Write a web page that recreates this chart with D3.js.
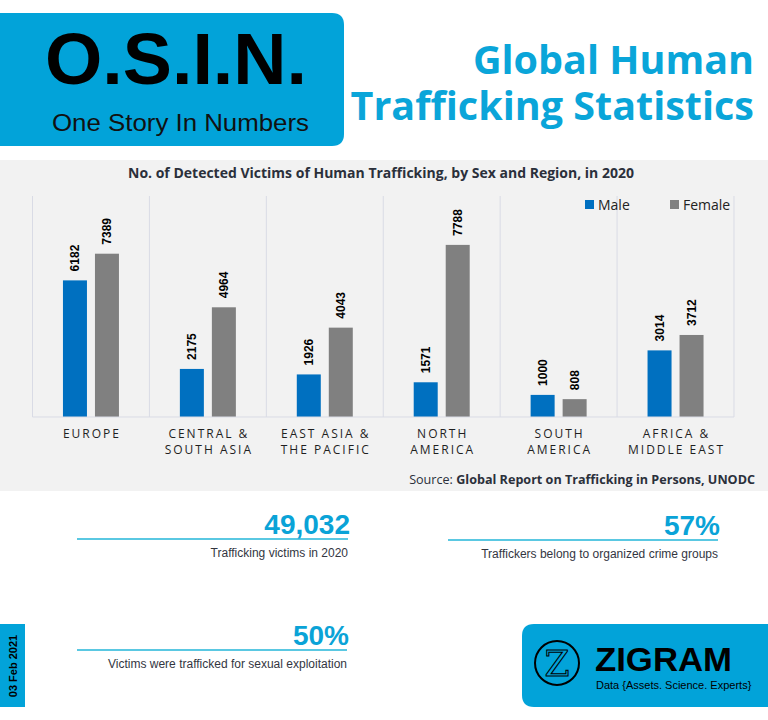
<!DOCTYPE html>
<html lang="en">
  <head>
    <meta charset="UTF-8" />
    <title>Global Human Trafficking Statistics</title>
  </head>
  <style>
    body {
      margin: 0;
      background: #fff;
    }
    svg text {
      font-family: 'Open Sans', 'Noto Sans', sans-serif;
    }
  </style>
  <body>
    <svg id="svg" width="768" height="720"></svg>

    <script src="https://d3js.org/d3.v7.min.js"></script>
    <script>
      // chart values
      const regions = ['EUROPE', 'CENTRAL & SOUTH ASIA', 'EAST ASIA & THE PACIFIC',
        'NORTH AMERICA', 'SOUTH AMERICA', 'AFRICA & MIDDLE EAST'];
      const regionLines = [['EUROPE'], ['CENTRAL &', 'SOUTH ASIA'], ['EAST ASIA &', 'THE PACIFIC'],
        ['NORTH', 'AMERICA'], ['SOUTH', 'AMERICA'], ['AFRICA &', 'MIDDLE EAST']];
      const series = ['Male', 'Female'];
      const male = [6182, 2175, 1926, 1571, 1000, 3014];
      const female = [7389, 4964, 4043, 7788, 808, 3712];
      const yMax = 10000;

      const statValues = ['49,032', '57%', '50%'];
      const statLabels = ['Trafficking victims in 2020',
        'Traffickers belong to organized crime groups',
        'Victims were trafficked for sexual exploitation'];

      const blue = '#02a3d9';
      const colors = { Male: '#0070c0', Female: '#808080' };

      const svg = d3.select('#svg');

      // ---------- header ----------
      svg.append('path')
        .attr('d', 'M0,13 H332 Q344,13 344,25 V134 Q344,146 332,146 H0 Z')
        .attr('fill', blue);
      svg.append('text')
        .attr('x', 45).attr('y', 84)
        .attr('textLength', 262).attr('lengthAdjust', 'spacingAndGlyphs')
        .style('font-family', "'Liberation Sans', Arial, sans-serif")
        .style('font-weight', 'bold').style('font-size', '72px')
        .attr('fill', '#000')
        .text('O.S.I.N.');
      svg.append('text')
        .attr('x', 52).attr('y', 131)
        .attr('textLength', 257).attr('lengthAdjust', 'spacingAndGlyphs')
        .style('font-family', "'Liberation Sans', Arial, sans-serif")
        .style('font-size', '24.5px').attr('fill', '#111')
        .text('One Story In Numbers');

      // two-line title in one text element
      const title = svg.append('text')
        .attr('text-anchor', 'end')
        .style('font-weight', 'bold').style('font-size', '39.5px')
        .attr('fill', '#0aa5d9');
      title.selectAll('tspan')
        .data(['Global Human', 'Trafficking Statistics'])
        .enter().append('tspan')
        .attr('x', 754).attr('y', (d, i) => 74 + i * 46)
        .text((d) => d);

      // ---------- chart panel ----------
      svg.append('rect')
        .attr('x', 0).attr('y', 160).attr('width', 768).attr('height', 331)
        .attr('fill', '#f2f2f2');
      svg.append('text')
        .attr('x', 381).attr('y', 178).attr('text-anchor', 'middle')
        .style('font-weight', 'bold').style('font-size', '14px')
        .attr('fill', '#2b303b')
        .text('No. of Detected Victims of Human Trafficking, by Sex and Region, in 2020');

      const x = d3.scaleBand().domain(regions).range([32.5, 734]);
      const xSub = d3.scaleBand().domain(series)
        .range([(x.bandwidth() - 56) / 2, (x.bandwidth() + 56) / 2])
        .paddingInner(0.25);
      const y = d3.scaleLinear().domain([0, yMax]).range([417, 196]);

      // vertical grid lines between categories
      const edges = regions.map((r) => x(r)).concat([x.range()[1]]);
      svg.selectAll('.grid')
        .data(edges)
        .enter().append('line')
        .attr('x1', (d) => d).attr('x2', (d) => d)
        .attr('y1', y(yMax)).attr('y2', y(0))
        .attr('stroke', '#d9dbe5').attr('stroke-width', 1);

      const rows = regions.map((r, i) => ({ region: r, Male: male[i], Female: female[i] }));

      const groups = svg.selectAll('.grp')
        .data(rows)
        .enter().append('g')
        .attr('transform', (d) => `translate(${x(d.region)},0)`);

      const cells = groups.selectAll('g')
        .data((d) => series.map((s) => ({ key: s, value: d[s] })))
        .enter().append('g');

      cells.append('rect')
        .attr('x', (d) => xSub(d.key))
        .attr('y', (d) => y(d.value))
        .attr('width', xSub.bandwidth())
        .attr('height', (d) => y(0) - y(d.value))
        .attr('fill', (d) => colors[d.key]);

      cells.append('text')
        .attr('transform', (d) =>
          `translate(${xSub(d.key) + xSub.bandwidth() / 2},${y(d.value) - 9}) rotate(-90)`)
        .attr('dominant-baseline', 'central')
        .style('font-family', "'Liberation Sans', Arial, sans-serif")
        .style('font-weight', 'bold').style('font-size', '12px')
        .attr('fill', '#000')
        .text((d) => d.value);

      // baseline
      svg.append('line')
        .attr('x1', x.range()[0]).attr('x2', x.range()[1])
        .attr('y1', y(0)).attr('y2', y(0))
        .attr('stroke', '#d9dbe5');

      // x axis labels
      const axis = svg.append('g')
        .attr('transform', `translate(0,${y(0)})`)
        .call(d3.axisBottom(x).tickSize(0).tickPadding(0));
      axis.select('.domain').remove();
      axis.selectAll('.tick text').each(function (d) {
        const t = d3.select(this).text(null)
          .attr('y', 21).attr('dy', null)
          .attr('fill', '#1f1f1f')
          .style('font-family', "'Open Sans', sans-serif")
          .style('font-size', '12px').style('letter-spacing', '2px');
        regionLines[regions.indexOf(d)].forEach((line, i) => {
          t.append('tspan').attr('x', 1).attr('dy', i === 0 ? 0 : 16).text(line);
        });
      });

      // legend
      const legend = svg.selectAll('.leg')
        .data(series)
        .enter().append('g')
        .attr('transform', (d, i) => `translate(${585 + i * 85},200)`);
      legend.append('rect')
        .attr('width', 9).attr('height', 9)
        .attr('fill', (d) => colors[d]);
      legend.append('text')
        .attr('x', 13).attr('y', 10)
        .style('font-size', '14px').attr('fill', '#222')
        .text((d) => d);

      // source
      const src = svg.append('text')
        .attr('x', 755).attr('y', 484).attr('text-anchor', 'end')
        .style('font-size', '12.6px').attr('fill', '#2b303b');
      src.append('tspan').text('Source: ');
      src.append('tspan').style('font-weight', 'bold')
        .text('Global Report on Trafficking in Persons, UNODC');

      // ---------- stats ----------
      const statPos = [
        { x1: 77, x2: 348, y: 539 },
        { x1: 448, x2: 718, y: 540 },
        { x1: 77, x2: 347, y: 650 },
      ];
      const stats = svg.selectAll('.stat')
        .data(statValues)
        .enter().append('g');
      stats.append('line')
        .attr('x1', (d, i) => statPos[i].x1).attr('x2', (d, i) => statPos[i].x2)
        .attr('y1', (d, i) => statPos[i].y).attr('y2', (d, i) => statPos[i].y)
        .attr('stroke', '#5ac8e2').attr('stroke-width', 2);
      stats.append('text')
        .attr('x', (d, i) => statPos[i].x2 + 2).attr('y', (d, i) => statPos[i].y - 5)
        .attr('text-anchor', 'end')
        .style('font-family', "'Liberation Sans', Arial, sans-serif")
        .style('font-weight', 'bold').style('font-size', '28px')
        .attr('fill', '#0aa3d7')
        .text((d) => d);
      stats.append('text')
        .attr('x', (d, i) => statPos[i].x2).attr('y', (d, i) => statPos[i].y + 18)
        .attr('text-anchor', 'end')
        .style('font-family', "'Liberation Sans', Arial, sans-serif")
        .style('font-size', '12px').attr('fill', '#33363f')
        .text((d, i) => statLabels[i]);

      // ---------- date tab ----------
      svg.append('rect')
        .attr('x', 0).attr('y', 624).attr('width', 25).attr('height', 83)
        .attr('fill', blue);
      svg.append('text')
        .attr('transform', 'translate(13,666) rotate(-90)')
        .attr('text-anchor', 'middle').attr('dominant-baseline', 'central')
        .style('font-family', "'Liberation Sans', Arial, sans-serif")
        .style('font-size', '11px').style('font-weight', 'bold').attr('fill', '#000')
        .text('03 Feb 2021');

      // ---------- ZIGRAM logo ----------
      svg.append('path')
        .attr('d', 'M534,624 H768 V707 H534 Q522,707 522,695 V636 Q522,624 534,624 Z')
        .attr('fill', blue);
      svg.append('circle')
        .attr('cx', 557).attr('cy', 663).attr('r', 22)
        .attr('fill', 'none').attr('stroke', '#000').attr('stroke-width', 2);
      svg.append('text')
        .attr('x', 557).attr('y', 676).attr('text-anchor', 'middle')
        .style('font-family', "'DejaVu Serif', 'Liberation Serif', serif")
        .style('font-size', '36px').attr('fill', 'none')
        .attr('stroke', '#000').attr('stroke-width', 1)
        .text('Z');
      svg.append('text')
        .attr('x', 595).attr('y', 671)
        .attr('textLength', 137).attr('lengthAdjust', 'spacingAndGlyphs')
        .style('font-family', "'Liberation Sans', Arial, sans-serif")
        .style('font-weight', 'bold').style('font-size', '34px')
        .attr('fill', '#000')
        .text('ZIGRAM');
      svg.append('text')
        .attr('x', 596).attr('y', 689)
        .style('font-family', "'Liberation Sans', Arial, sans-serif")
        .style('font-size', '11px').attr('fill', '#000')
        .text('Data {Assets. Science. Experts}');
    </script>
  </body>
</html>
